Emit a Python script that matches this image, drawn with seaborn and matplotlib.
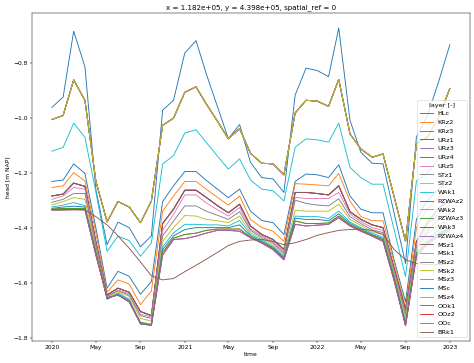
import numpy as np
import pandas as pd
import matplotlib
matplotlib.use("Agg")
import matplotlib.pyplot as plt
import matplotlib.dates as mdates
import seaborn as sns

# monthly heads (m NAP), Jan 2020 .. Jan 2023
times = pd.date_range("2020-01-01", periods=37, freq="MS")

layers = ["HLc", "KRz2", "KRz3", "URz1", "URz3", "URz4", "URz5", "STz1", "STz2",
          "WAk1", "PZWAz2", "WAk2", "PZWAz3", "WAk3", "PZWAz4", "MSz1", "MSk1",
          "MSz2", "MSk2", "MSz3", "MSc", "MSz4", "OOk1", "OOz2", "OOc", "BRk1"]

hlc = [-0.963, -0.925, -0.686, -0.815, -1.26, -1.462, -1.38, -1.40, -1.47, -1.43,
       -0.973, -0.937, -0.765, -0.72, -0.84, -0.96, -1.077, -1.025, -1.163, -1.218,
       -1.223, -1.272, -0.918, -0.82, -0.829, -0.851, -0.674, -1.01, -1.126, -1.166,
       -1.168, -1.35, -1.53, -1.07, -0.99, -0.87, -0.735]
phreatic = [-1.007, -0.992, -0.863, -0.937, -1.23, -1.379, -1.305, -1.325, -1.382, -1.303,
            -1.028, -1.002, -0.908, -0.888, -0.95, -1.013, -1.077, -1.04, -1.13, -1.166,
            -1.168, -1.208, -0.983, -0.937, -0.94, -0.959, -0.861, -1.059, -1.114, -1.144,
            -1.132, -1.29, -1.45, -1.095, -1.07, -1.0, -0.894]
wak1 = [-1.122, -1.108, -1.02, -1.071, -1.27, -1.486, -1.431, -1.447, -1.504, -1.456,
        -1.169, -1.138, -1.056, -1.044, -1.09, -1.14, -1.187, -1.15, -1.227, -1.26,
        -1.266, -1.303, -1.108, -1.077, -1.081, -1.089, -1.02, -1.181, -1.218, -1.242,
        -1.242, -1.41, -1.578, -1.23, -1.20, -1.15, -1.10]
pzwaz2 = [-1.232, -1.227, -1.168, -1.203, -1.40, -1.62, -1.559, -1.577, -1.642, -1.596,
          -1.305, -1.248, -1.196, -1.196, -1.228, -1.26, -1.291, -1.26, -1.34, -1.374,
          -1.382, -1.425, -1.232, -1.205, -1.208, -1.218, -1.171, -1.285, -1.333, -1.346,
          -1.346, -1.52, -1.67, -1.37, -1.30, -1.26, -1.23]
wak2 = [-1.254, -1.248, -1.20, -1.23, -1.42, -1.635, -1.59, -1.605, -1.68, -1.63,
        -1.34, -1.285, -1.232, -1.232, -1.26, -1.29, -1.318, -1.285, -1.37, -1.40,
        -1.413, -1.45, -1.24, -1.242, -1.245, -1.248, -1.203, -1.303, -1.36, -1.375,
        -1.375, -1.53, -1.69, -1.40, -1.33, -1.29, -1.26]
pzwa_mid = [-1.285, -1.278, -1.238, -1.25, -1.45, -1.645, -1.62, -1.635, -1.705, -1.72,
            -1.385, -1.333, -1.264, -1.264, -1.29, -1.32, -1.346, -1.315, -1.394, -1.425,
            -1.443, -1.48, -1.272, -1.272, -1.276, -1.281, -1.248, -1.342, -1.37, -1.39,
            -1.40, -1.55, -1.70, -1.45, -1.38, -1.33, -1.30]
msk1 = [-1.297, -1.285, -1.254, -1.26, -1.46, -1.65, -1.627, -1.64, -1.715, -1.725,
        -1.41, -1.352, -1.281, -1.281, -1.31, -1.335, -1.358, -1.327, -1.405, -1.43,
        -1.45, -1.487, -1.29, -1.294, -1.294, -1.294, -1.272, -1.35, -1.378, -1.40,
        -1.41, -1.56, -1.71, -1.46, -1.39, -1.35, -1.32]
msz2 = [-1.308, -1.297, -1.276, -1.276, -1.47, -1.65, -1.63, -1.645, -1.72, -1.73,
        -1.43, -1.376, -1.321, -1.321, -1.34, -1.355, -1.37, -1.342, -1.41, -1.435,
        -1.455, -1.493, -1.30, -1.312, -1.318, -1.321, -1.295, -1.36, -1.385, -1.408,
        -1.418, -1.565, -1.715, -1.47, -1.41, -1.37, -1.35]
msk2 = [-1.318, -1.305, -1.291, -1.297, -1.48, -1.655, -1.633, -1.65, -1.73, -1.74,
        -1.45, -1.40, -1.356, -1.358, -1.37, -1.375, -1.382, -1.358, -1.418, -1.44,
        -1.46, -1.50, -1.337, -1.34, -1.34, -1.34, -1.315, -1.37, -1.392, -1.415,
        -1.425, -1.57, -1.725, -1.48, -1.42, -1.39, -1.37]
msz3 = [-1.325, -1.318, -1.309, -1.32, -1.49, -1.66, -1.638, -1.66, -1.745, -1.75,
        -1.47, -1.419, -1.388, -1.388, -1.39, -1.39, -1.394, -1.374, -1.425, -1.445,
        -1.467, -1.505, -1.358, -1.36, -1.36, -1.367, -1.34, -1.38, -1.40, -1.42,
        -1.435, -1.58, -1.74, -1.49, -1.44, -1.41, -1.39]
msc = [-1.33, -1.325, -1.322, -1.325, -1.49, -1.66, -1.642, -1.665, -1.75, -1.755,
       -1.48, -1.43, -1.407, -1.40, -1.40, -1.40, -1.40, -1.39, -1.43, -1.45,
       -1.472, -1.51, -1.366, -1.37, -1.37, -1.375, -1.35, -1.385, -1.405, -1.425,
       -1.44, -1.585, -1.75, -1.495, -1.45, -1.42, -1.40]
oo_upper = [-1.333, -1.33, -1.33, -1.33, -1.495, -1.655, -1.645, -1.67, -1.75, -1.755,
            -1.49, -1.438, -1.425, -1.42, -1.41, -1.405, -1.405, -1.405, -1.435, -1.453,
            -1.476, -1.514, -1.376, -1.385, -1.385, -1.383, -1.358, -1.39, -1.41, -1.428,
            -1.445, -1.59, -1.755, -1.50, -1.455, -1.425, -1.405]
oo_lower = [-1.336, -1.335, -1.335, -1.335, -1.50, -1.655, -1.645, -1.67, -1.745, -1.755,
            -1.50, -1.443, -1.44, -1.431, -1.42, -1.41, -1.41, -1.413, -1.437, -1.456,
            -1.48, -1.517, -1.388, -1.394, -1.391, -1.388, -1.364, -1.394, -1.413, -1.431,
            -1.45, -1.595, -1.757, -1.505, -1.46, -1.43, -1.41]
brk1 = [-1.335, -1.336, -1.334, -1.336, -1.36, -1.39, -1.43, -1.475, -1.525, -1.575,
        -1.59, -1.585, -1.56, -1.537, -1.515, -1.49, -1.465, -1.45, -1.445, -1.443,
        -1.45, -1.462, -1.455, -1.443, -1.428, -1.418, -1.41, -1.407, -1.405, -1.41,
        -1.425, -1.48, -1.517, -1.53, -1.535, -1.535, -1.53]

series = {
    "HLc": hlc, "KRz2": phreatic, "KRz3": phreatic, "URz1": phreatic, "URz3": phreatic,
    "URz4": phreatic, "URz5": phreatic, "STz1": phreatic, "STz2": phreatic,
    "WAk1": wak1, "PZWAz2": pzwaz2, "WAk2": wak2, "PZWAz3": pzwa_mid, "WAk3": pzwa_mid,
    "PZWAz4": pzwa_mid, "MSz1": pzwa_mid, "MSk1": msk1, "MSz2": msz2, "MSk2": msk2,
    "MSz3": msz3, "MSc": msc, "MSz4": oo_upper, "OOk1": oo_upper, "OOz2": oo_lower,
    "OOc": oo_lower, "BRk1": brk1,
}

df = pd.concat([pd.DataFrame({"time": times, "head": series[l], "layer": l}) for l in layers])

tab10 = sns.color_palette("tab10")

fig, ax = plt.subplots(figsize=(474 / 43, 363 / 43), dpi=43)
fig.subplots_adjust(left=0.0675, right=0.991, bottom=0.0614, top=0.964)

# one call per layer so the drawing order follows the layer order
for i, l in enumerate(layers):
    sns.lineplot(data=df[df["layer"] == l], x="time", y="head", color=tab10[i % 10],
                 label=l, estimator=None, linewidth=1.5, ax=ax)

ax.legend(title="layer [-]", loc="lower right", fontsize=10.8, title_fontsize=10.8)

ax.xaxis.set_major_locator(mdates.MonthLocator(bymonth=[1, 5, 9]))
ax.xaxis.set_major_formatter(mdates.ConciseDateFormatter(ax.xaxis.get_major_locator()))
ax.set_xlabel("time")
ax.set_ylabel("head [m NAP]")
ax.set_title("x = 1.182e+05, y = 4.398e+05, spatial_ref = 0")

fig.savefig("out.png", dpi=43)
